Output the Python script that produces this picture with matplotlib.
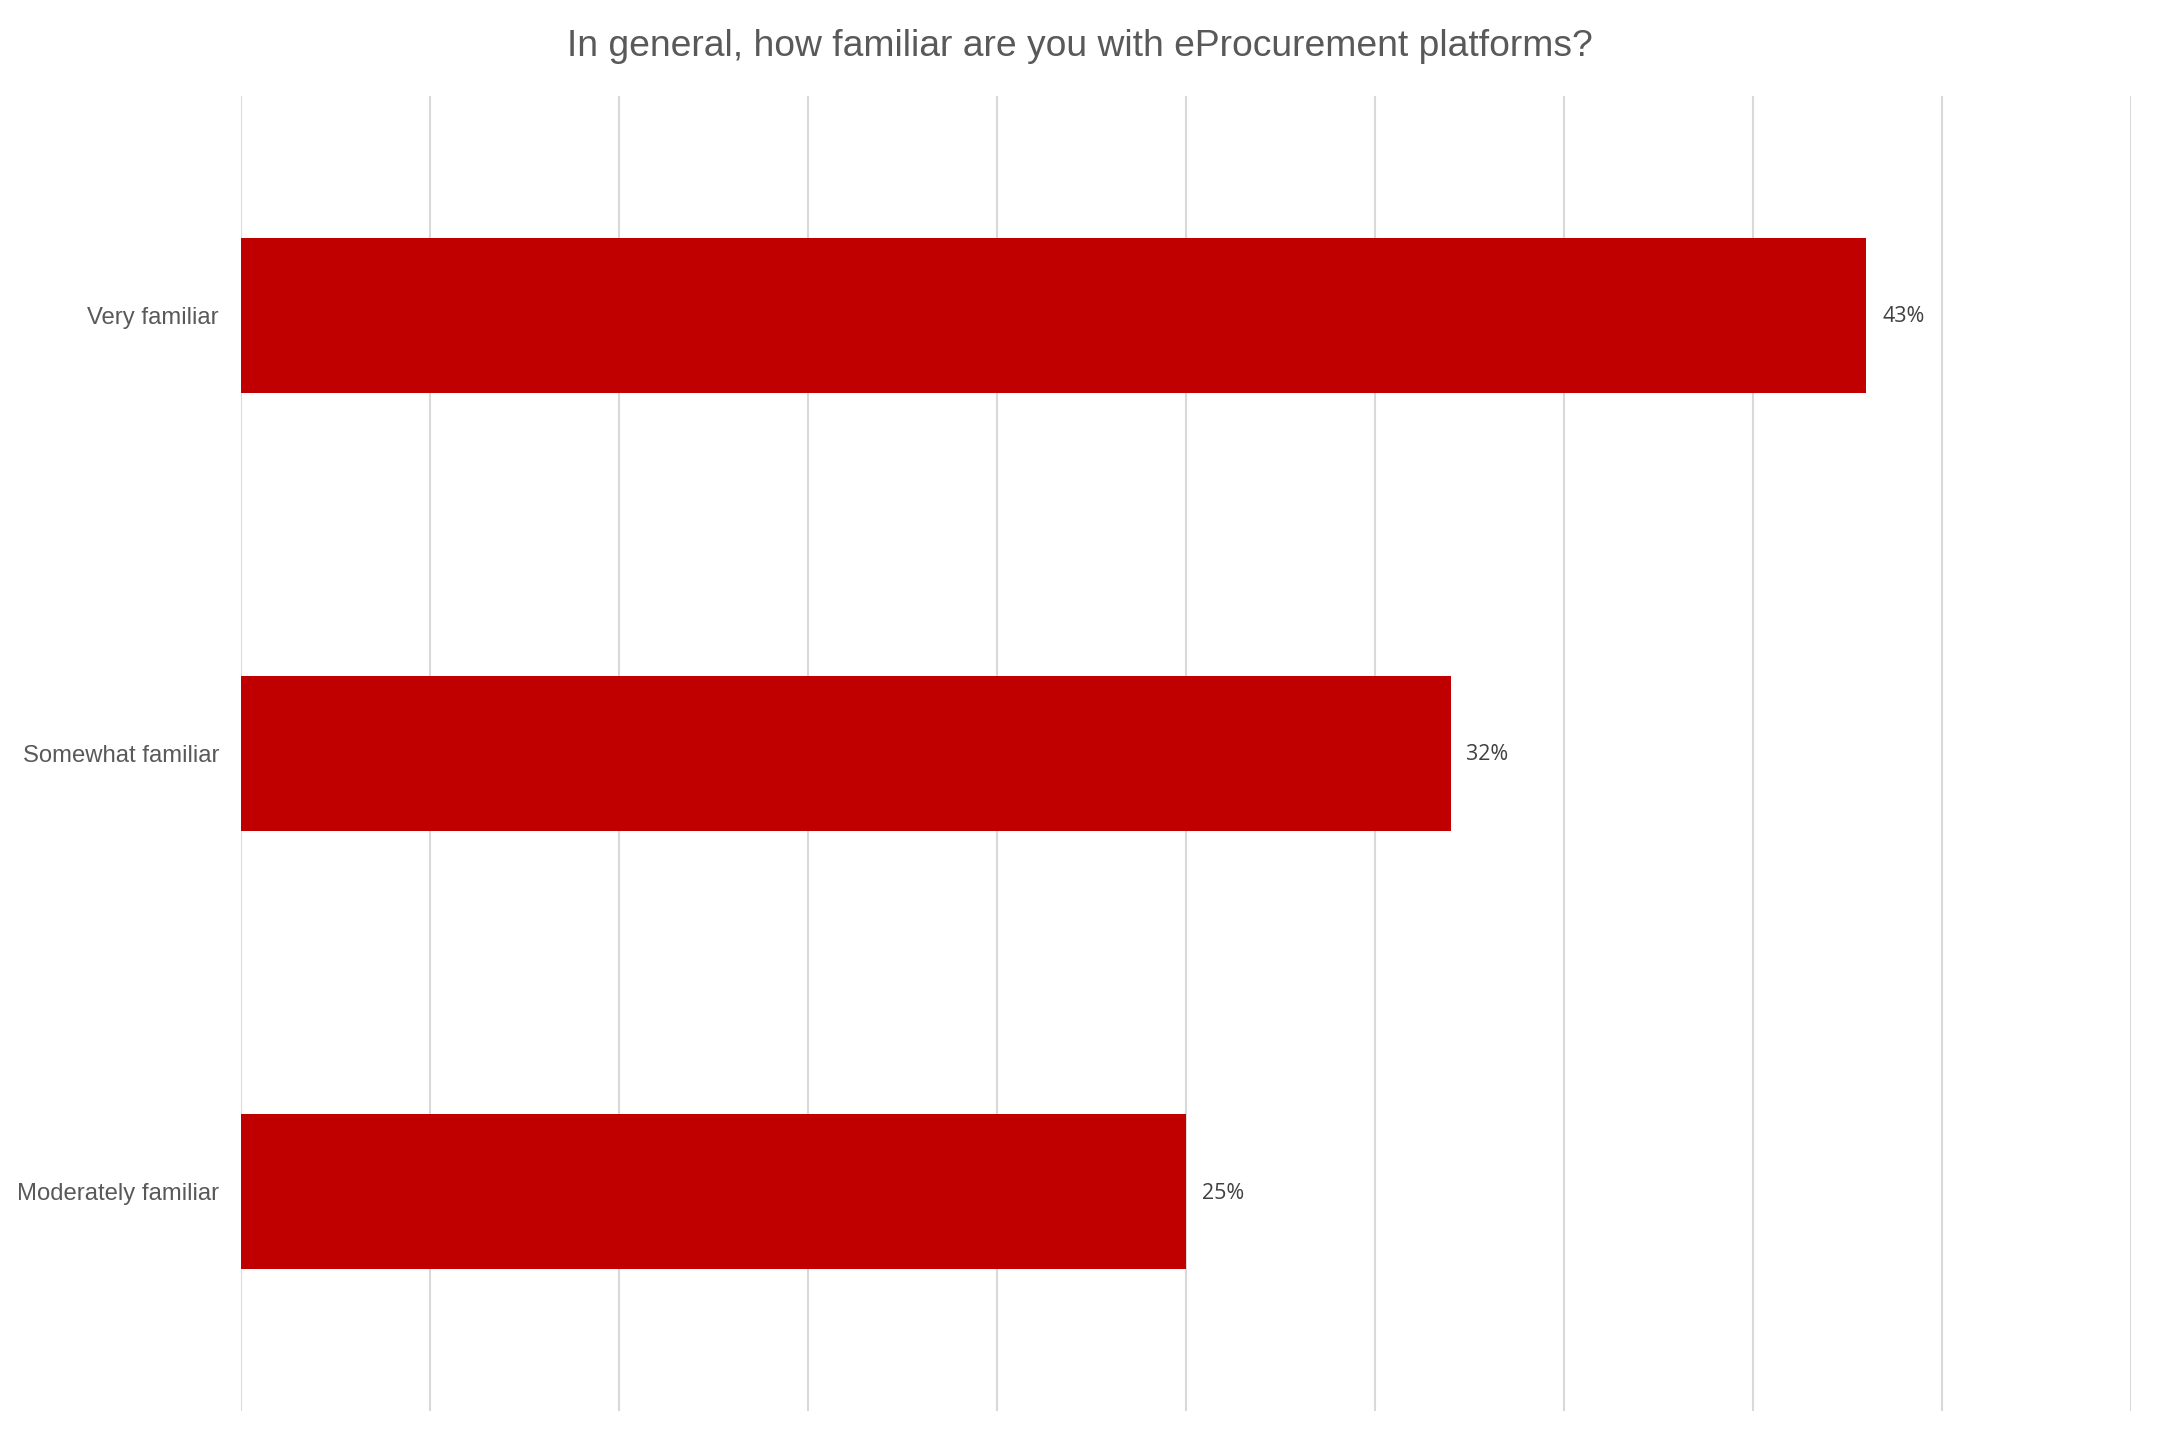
import matplotlib
matplotlib.use("Agg")
import matplotlib.pyplot as plt

categories = ["Very familiar", "Somewhat familiar", "Moderately familiar"]
values = [0.43, 0.32, 0.25]
value_labels = ["43%", "32%", "25%"]
title = "In general, how familiar are you with eProcurement platforms?"
x_ticks = [0.0, 0.05, 0.10, 0.15, 0.20, 0.25, 0.30, 0.35, 0.40, 0.45, 0.50]

fig = plt.figure(figsize=(21.6, 14.4), dpi=100)
ax = fig.add_axes([0.1114, 0.0201, 0.9866 - 0.1114, 0.9333 - 0.0201])

ypos = list(range(len(categories)))
ax.barh(ypos, values, height=0.354, color="#C00000", zorder=3)

ax.set_xlim(0, 0.5)
ax.set_ylim(len(categories) - 0.5, -0.5)
ax.set_xticks(x_ticks)
ax.set_xticklabels([])
ax.tick_params(axis="x", length=0)
ax.tick_params(axis="y", length=0, pad=15.5)
ax.set_yticks(ypos)
ax.set_yticklabels(categories, fontsize=17.2, color="#595959", family="Liberation Sans")
ax.grid(axis="x", color="#D9D9D9", linewidth=1.5, zorder=0)
for s in ax.spines.values():
    s.set_visible(False)

for y, v, lab in zip(ypos, values, value_labels):
    ax.annotate(lab, xy=(v, y), xytext=(11.5, -1), textcoords="offset points",
                ha="left", va="center", fontsize=15.4, color="#404040",
                family="Open Sans")

fig.text(0.5, 1 - 46 / 1440, title, ha="center", va="center", fontsize=26.8,
         color="#595959", family="Liberation Sans")

fig.savefig("out.png", dpi=100, facecolor="white")
